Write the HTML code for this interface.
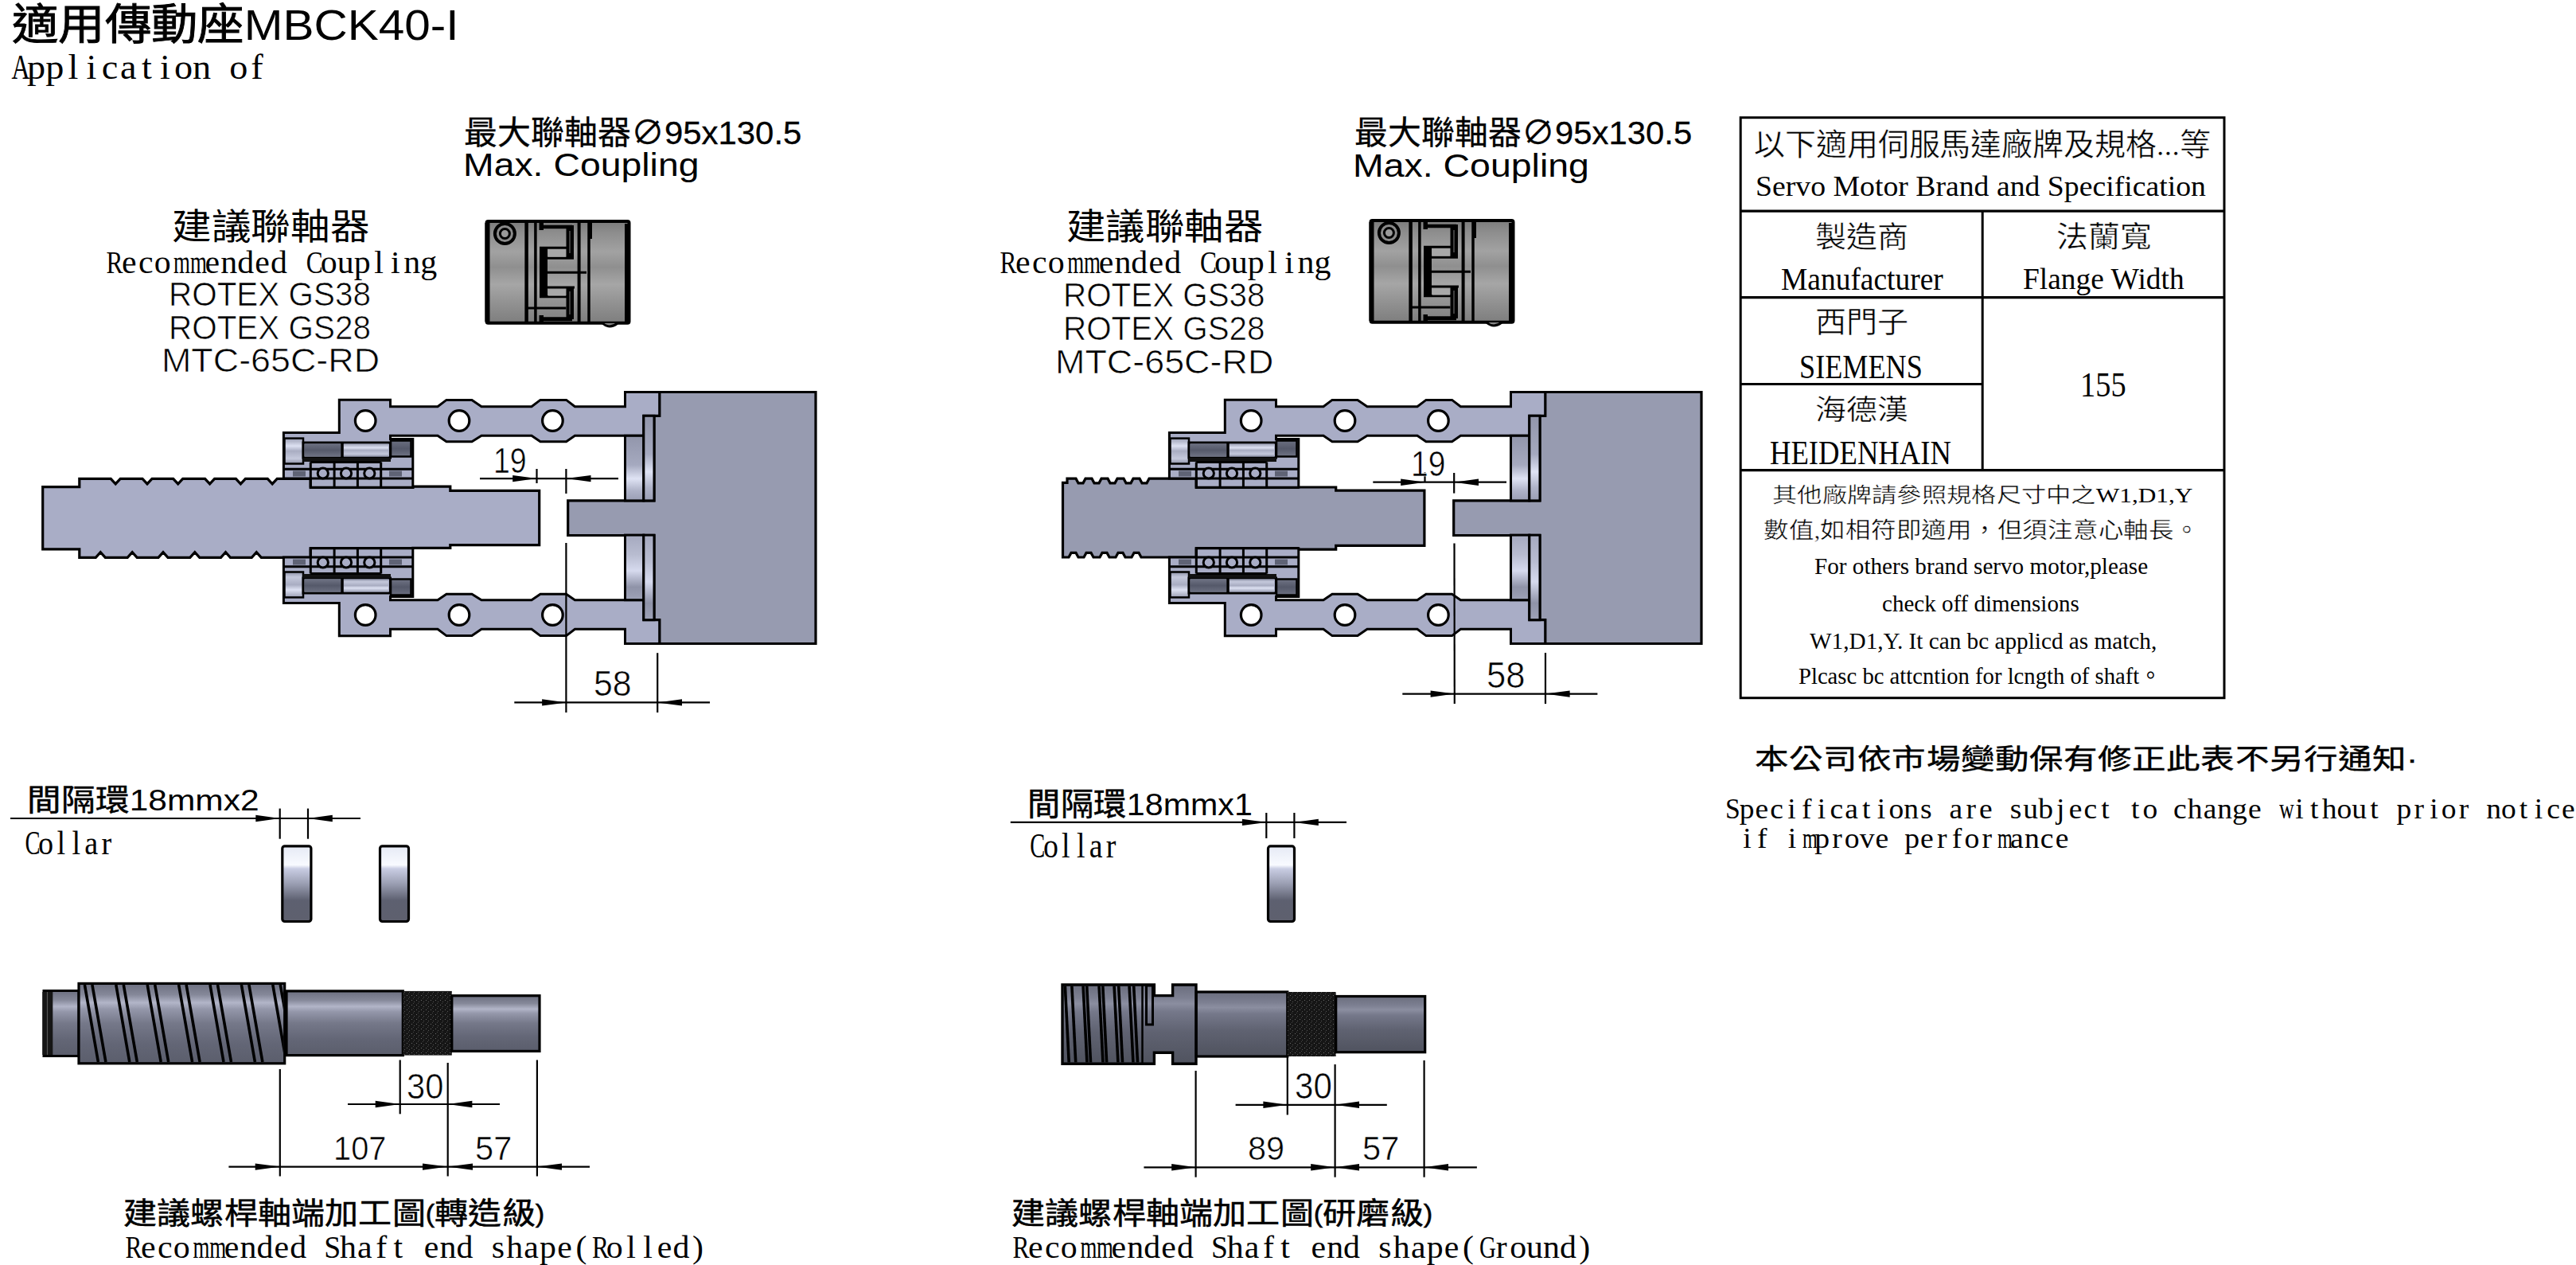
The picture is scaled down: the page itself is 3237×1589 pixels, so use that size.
<!DOCTYPE html>
<html lang="zh-TW"><head><meta charset="utf-8"><style>
html,body{margin:0;padding:0;background:#fff;}
body{width:3237px;height:1589px;position:relative;overflow:hidden;}
.ms i{display:inline-block;width:0.5em;text-align:center;font-style:normal;}
.pr{font-size:0.82em;vertical-align:0.06em;}
.t{position:absolute;white-space:nowrap;line-height:1.25;color:#000;transform-origin:0 0;}
svg{position:absolute;left:0;top:0;}
</style></head><body>
<svg width="3237" height="1589" viewBox="0 0 3237 1589">
<defs>
<linearGradient id="ringG" x1="0" y1="0" x2="0" y2="1">
 <stop offset="0" stop-color="#9296ab"/><stop offset="0.45" stop-color="#a5a9bf"/>
 <stop offset="0.66" stop-color="#dfe3f4"/><stop offset="0.85" stop-color="#aeb2c7"/><stop offset="1" stop-color="#9a9eb4"/>
</linearGradient>
<linearGradient id="ringGb" x1="0" y1="0" x2="0" y2="1">
 <stop offset="0" stop-color="#9ea2b7"/><stop offset="0.2" stop-color="#8f93a8"/><stop offset="0.45" stop-color="#d6daee"/><stop offset="0.7" stop-color="#b8bcd0"/><stop offset="1" stop-color="#a5a9bf"/>
</linearGradient>
<linearGradient id="ringG2" x1="0" y1="1" x2="0" y2="0">
 <stop offset="0" stop-color="#9296ab"/><stop offset="0.45" stop-color="#a5a9bf"/>
 <stop offset="0.66" stop-color="#dfe3f4"/><stop offset="0.85" stop-color="#aeb2c7"/><stop offset="1" stop-color="#9a9eb4"/>
</linearGradient>
<linearGradient id="boltG" x1="0" y1="0" x2="0" y2="1">
 <stop offset="0" stop-color="#9a9eb3"/><stop offset="0.3" stop-color="#dde1f2"/><stop offset="0.5" stop-color="#a9adc2"/>
 <stop offset="0.8" stop-color="#c5c9dc"/><stop offset="1" stop-color="#8e92a7"/>
</linearGradient>
<linearGradient id="darkG" x1="0" y1="0" x2="0" y2="1">
 <stop offset="0" stop-color="#6b6f80"/><stop offset="0.5" stop-color="#55596a"/><stop offset="1" stop-color="#6f7384"/>
</linearGradient>
<linearGradient id="shaftG" x1="0" y1="0" x2="0" y2="1">
 <stop offset="0" stop-color="#6c6f80"/><stop offset="0.14" stop-color="#858899"/><stop offset="0.24" stop-color="#b2b5c8"/>
 <stop offset="0.32" stop-color="#9497aa"/><stop offset="0.5" stop-color="#757889"/><stop offset="0.75" stop-color="#636676"/><stop offset="1" stop-color="#5b5e6c"/>
</linearGradient>
<linearGradient id="shaftG2" x1="0" y1="0" x2="0" y2="1">
 <stop offset="0" stop-color="#6a6d7d"/><stop offset="0.16" stop-color="#7c7f91"/><stop offset="0.24" stop-color="#8b8ea0"/>
 <stop offset="0.34" stop-color="#75788a"/><stop offset="0.6" stop-color="#5f6271"/><stop offset="1" stop-color="#50535f"/>
</linearGradient>
<linearGradient id="collarG" x1="0" y1="0" x2="0" y2="1">
 <stop offset="0" stop-color="#e6eaf5"/><stop offset="0.25" stop-color="#f8faff"/><stop offset="0.3" stop-color="#c9cde3"/>
 <stop offset="0.5" stop-color="#9a9eb2"/><stop offset="0.72" stop-color="#5d6070"/><stop offset="1" stop-color="#5e606e"/>
</linearGradient>
<linearGradient id="coupG" x1="0" y1="0" x2="0" y2="1">
 <stop offset="0" stop-color="#7c7c7c"/><stop offset="0.12" stop-color="#8e8e8e"/><stop offset="0.3" stop-color="#a2a2a2"/>
 <stop offset="0.45" stop-color="#8f8f8f"/><stop offset="0.62" stop-color="#a6a6a6"/><stop offset="0.8" stop-color="#929292"/><stop offset="1" stop-color="#7e7e7e"/>
</linearGradient>
<pattern id="knurl" width="6" height="6" patternUnits="userSpaceOnUse">
 <rect width="6" height="6" fill="#161616"/><rect x="1" y="2" width="1" height="1" fill="#6a6a6a"/><rect x="4" y="4" width="1" height="1" fill="#555"/><rect x="3" y="0" width="1" height="1" fill="#444"/>
</pattern>
</defs>
<path d="M53.7,611.7 L99.8,611.7 L99.8,601.3 L139.2,601.3 L145.2,607.8 L151.2,601.3 L179.0,601.3 L185.0,607.8 L191.0,601.3 L217.7,601.3 L223.7,607.8 L229.7,601.3 L257.6,601.3 L263.6,607.8 L269.6,601.3 L296.4,601.3 L302.4,607.8 L308.4,601.3 L336.2,601.3 L342.2,607.8 L348.2,601.3 L390.3,601.3 L390.3,612.3 L518.8,612.3 L518.8,611.2 L565.8,611.2 L565.8,616.3 L677.7,616.3 L677.7,684.6 L565.8,684.6 L565.8,688.4 L518.8,688.4 L518.8,688.7 L390.3,688.7 L390.3,700.3 L328.3,700.3 L322.3,693.7 L316.3,700.3 L289.5,700.3 L283.5,693.7 L277.5,700.3 L250.8,700.3 L244.8,693.7 L238.8,700.3 L211.0,700.3 L205.0,693.7 L199.0,700.3 L172.2,700.3 L166.2,693.7 L160.2,700.3 L132.3,700.3 L126.3,693.7 L120.3,700.3 L99.8,700.3 L99.8,689.9 L53.7,689.9 Z" fill="#a9adc6" stroke="#000" stroke-width="3.2" stroke-linejoin="miter" />
<path d="M828.7,492.5 L1025.0,492.5 L1025.0,808.5 L828.7,808.5 L828.7,778.7 L822.0,778.7 L822.0,672.5 L713.7,672.5 L713.7,628.9 L822.0,628.9 L822.0,522.3 L828.7,522.3 Z" fill="#979bb0" stroke="#000" stroke-width="3.2" stroke-linejoin="miter" /><path d="M356.4,543.4 L426.3,543.4 L426.3,502.3 L490.5,502.3 L490.5,510.7 L550.0,510.7 L561.0,502.4 L593.0,502.4 L605.0,510.7 L668.0,510.7 L679.0,502.4 L711.6,502.4 L722.4,510.7 L785.5,510.7 L785.5,492.5 L828.7,492.5 L828.7,522.3 L808.8,522.3 L808.8,547.3 L722.4,547.3 L711.6,554.7 L679.0,554.7 L668.0,547.3 L605.0,547.3 L593.0,554.7 L561.0,554.7 L550.0,547.3 L490.5,547.3 L490.5,551.6 L518.8,551.6 L518.8,612.3 L390.3,612.3 L390.3,601.0 L356.4,601.0 Z" fill="#a9adc6" stroke="#000" stroke-width="3" stroke-linejoin="miter" /><circle cx="459.2" cy="528.5" r="12.8" fill="#fff" stroke="#000" stroke-width="3.2"/><circle cx="577" cy="528.5" r="12.8" fill="#fff" stroke="#000" stroke-width="3.2"/><circle cx="694.4" cy="528.5" r="12.8" fill="#fff" stroke="#000" stroke-width="3.2"/><rect x="357.5" y="550.6" width="23.5" height="31.9" fill="url(#boltG)" stroke="#000" stroke-width="2.5" /><rect x="381.0" y="556.0" width="109.5" height="19.0" fill="none" stroke="#000" stroke-width="3" /><rect x="382.5" y="557.5" width="46" height="16" fill="url(#darkG)"/><rect x="432" y="557.5" width="56" height="16" fill="url(#boltG)"/><line x1="430.0" y1="556.0" x2="430.0" y2="575.0" stroke="#000" stroke-width="3.5"/><rect x="491.0" y="553.5" width="25.5" height="20.0" fill="url(#darkG)" stroke="#000" stroke-width="2.5" /><rect x="381" y="575" width="110" height="5" fill="#111"/><line x1="357.0" y1="589.2" x2="518.8" y2="589.2" stroke="#000" stroke-width="3"/><line x1="390.3" y1="601.0" x2="518.8" y2="601.0" stroke="#000" stroke-width="3"/><line x1="390.3" y1="580.4" x2="390.3" y2="612.3" stroke="#000" stroke-width="3"/><line x1="420.1" y1="580.4" x2="420.1" y2="612.3" stroke="#000" stroke-width="3"/><line x1="449.4" y1="580.4" x2="449.4" y2="612.3" stroke="#000" stroke-width="3"/><line x1="478.7" y1="580.4" x2="478.7" y2="612.3" stroke="#000" stroke-width="3"/><line x1="390.3" y1="580.4" x2="478.7" y2="580.4" stroke="#000" stroke-width="3"/><circle cx="405.8" cy="594.5" r="6.6" fill="#a9adc6" stroke="#000" stroke-width="3"/><circle cx="435" cy="594.5" r="6.6" fill="#a9adc6" stroke="#000" stroke-width="3"/><circle cx="464.3" cy="594.5" r="6.6" fill="#a9adc6" stroke="#000" stroke-width="3"/><rect x="368" y="591.5" width="16" height="7" fill="#5f6375"/><rect x="489" y="591.5" width="16" height="7" fill="#5f6375"/><rect x="785.5" y="547.3" width="23.3" height="81.6" fill="url(#ringG)" stroke="#000" stroke-width="3" /><rect x="808.8" y="522.3" width="13.2" height="106.6" fill="url(#ringG)" stroke="#000" stroke-width="3" /><g transform="matrix(1 0 0 -1 0 1301.0)"><path d="M356.4,543.4 L426.3,543.4 L426.3,502.3 L490.5,502.3 L490.5,510.7 L550.0,510.7 L561.0,502.4 L593.0,502.4 L605.0,510.7 L668.0,510.7 L679.0,502.4 L711.6,502.4 L722.4,510.7 L785.5,510.7 L785.5,492.5 L828.7,492.5 L828.7,522.3 L808.8,522.3 L808.8,547.3 L722.4,547.3 L711.6,554.7 L679.0,554.7 L668.0,547.3 L605.0,547.3 L593.0,554.7 L561.0,554.7 L550.0,547.3 L490.5,547.3 L490.5,551.6 L518.8,551.6 L518.8,612.3 L390.3,612.3 L390.3,601.0 L356.4,601.0 Z" fill="#a9adc6" stroke="#000" stroke-width="3" stroke-linejoin="miter" /><circle cx="459.2" cy="528.5" r="12.8" fill="#fff" stroke="#000" stroke-width="3.2"/><circle cx="577" cy="528.5" r="12.8" fill="#fff" stroke="#000" stroke-width="3.2"/><circle cx="694.4" cy="528.5" r="12.8" fill="#fff" stroke="#000" stroke-width="3.2"/><rect x="357.5" y="550.6" width="23.5" height="31.9" fill="url(#boltG)" stroke="#000" stroke-width="2.5" /><rect x="381.0" y="556.0" width="109.5" height="19.0" fill="none" stroke="#000" stroke-width="3" /><rect x="382.5" y="557.5" width="46" height="16" fill="url(#darkG)"/><rect x="432" y="557.5" width="56" height="16" fill="url(#boltG)"/><line x1="430.0" y1="556.0" x2="430.0" y2="575.0" stroke="#000" stroke-width="3.5"/><rect x="491.0" y="553.5" width="25.5" height="20.0" fill="url(#darkG)" stroke="#000" stroke-width="2.5" /><rect x="381" y="575" width="110" height="5" fill="#111"/><line x1="357.0" y1="589.2" x2="518.8" y2="589.2" stroke="#000" stroke-width="3"/><line x1="390.3" y1="601.0" x2="518.8" y2="601.0" stroke="#000" stroke-width="3"/><line x1="390.3" y1="580.4" x2="390.3" y2="612.3" stroke="#000" stroke-width="3"/><line x1="420.1" y1="580.4" x2="420.1" y2="612.3" stroke="#000" stroke-width="3"/><line x1="449.4" y1="580.4" x2="449.4" y2="612.3" stroke="#000" stroke-width="3"/><line x1="478.7" y1="580.4" x2="478.7" y2="612.3" stroke="#000" stroke-width="3"/><line x1="390.3" y1="580.4" x2="478.7" y2="580.4" stroke="#000" stroke-width="3"/><circle cx="405.8" cy="594.5" r="6.6" fill="#a9adc6" stroke="#000" stroke-width="3"/><circle cx="435" cy="594.5" r="6.6" fill="#a9adc6" stroke="#000" stroke-width="3"/><circle cx="464.3" cy="594.5" r="6.6" fill="#a9adc6" stroke="#000" stroke-width="3"/><rect x="368" y="591.5" width="16" height="7" fill="#5f6375"/><rect x="489" y="591.5" width="16" height="7" fill="#5f6375"/><rect x="785.5" y="547.3" width="23.3" height="81.6" fill="url(#ringGb)" stroke="#000" stroke-width="3" /><rect x="808.8" y="522.3" width="13.2" height="106.6" fill="url(#ringGb)" stroke="#000" stroke-width="3" /></g>
<path d="M1335.5,606.4 L1341.0,606.4 L1341.0,601.2 L1352.0,601.2 L1355.0,606.8 L1361.0,606.8 L1364.0,601.2 L1372.0,601.2 L1375.0,606.8 L1381.0,606.8 L1384.0,601.2 L1392.0,601.2 L1395.0,606.8 L1401.0,606.8 L1404.0,601.2 L1412.0,601.2 L1415.0,606.8 L1421.0,606.8 L1424.0,601.2 L1432.0,601.2 L1435.0,606.8 L1441.0,606.8 L1444.0,601.2 L1503.3,601.2 L1503.3,612.3 L1630.4,612.3 L1630.4,612.0 L1678.7,612.0 L1678.7,616.1 L1789.9,616.1 L1789.9,685.4 L1678.7,685.4 L1678.7,690.1 L1630.4,690.1 L1630.4,688.7 L1503.3,688.7 L1503.3,700.0 L1434.0,700.0 L1431.0,694.4 L1425.0,694.4 L1422.0,700.0 L1414.0,700.0 L1411.0,694.4 L1405.0,694.4 L1402.0,700.0 L1394.0,700.0 L1391.0,694.4 L1385.0,694.4 L1382.0,700.0 L1374.0,700.0 L1371.0,694.4 L1365.0,694.4 L1362.0,700.0 L1355.0,700.0 L1352.0,694.4 L1346.0,694.4 L1343.0,700.0 L1335.5,700.0 Z" fill="#979bb0" stroke="#000" stroke-width="3.2" stroke-linejoin="miter" />
<g transform="translate(1113 0)"><path d="M828.7,492.5 L1025.0,492.5 L1025.0,808.5 L828.7,808.5 L828.7,778.7 L822.0,778.7 L822.0,672.5 L713.7,672.5 L713.7,628.9 L822.0,628.9 L822.0,522.3 L828.7,522.3 Z" fill="#979bb0" stroke="#000" stroke-width="3.2" stroke-linejoin="miter" /><path d="M356.4,543.4 L426.3,543.4 L426.3,502.3 L490.5,502.3 L490.5,510.7 L550.0,510.7 L561.0,502.4 L593.0,502.4 L605.0,510.7 L668.0,510.7 L679.0,502.4 L711.6,502.4 L722.4,510.7 L785.5,510.7 L785.5,492.5 L828.7,492.5 L828.7,522.3 L808.8,522.3 L808.8,547.3 L722.4,547.3 L711.6,554.7 L679.0,554.7 L668.0,547.3 L605.0,547.3 L593.0,554.7 L561.0,554.7 L550.0,547.3 L490.5,547.3 L490.5,551.6 L518.8,551.6 L518.8,612.3 L390.3,612.3 L390.3,601.0 L356.4,601.0 Z" fill="#a9adc6" stroke="#000" stroke-width="3" stroke-linejoin="miter" /><circle cx="459.2" cy="528.5" r="12.8" fill="#fff" stroke="#000" stroke-width="3.2"/><circle cx="577" cy="528.5" r="12.8" fill="#fff" stroke="#000" stroke-width="3.2"/><circle cx="694.4" cy="528.5" r="12.8" fill="#fff" stroke="#000" stroke-width="3.2"/><rect x="357.5" y="550.6" width="23.5" height="31.9" fill="url(#boltG)" stroke="#000" stroke-width="2.5" /><rect x="381.0" y="556.0" width="109.5" height="19.0" fill="none" stroke="#000" stroke-width="3" /><rect x="382.5" y="557.5" width="46" height="16" fill="url(#darkG)"/><rect x="432" y="557.5" width="56" height="16" fill="url(#boltG)"/><line x1="430.0" y1="556.0" x2="430.0" y2="575.0" stroke="#000" stroke-width="3.5"/><rect x="491.0" y="553.5" width="25.5" height="20.0" fill="url(#darkG)" stroke="#000" stroke-width="2.5" /><rect x="381" y="575" width="110" height="5" fill="#111"/><line x1="357.0" y1="589.2" x2="518.8" y2="589.2" stroke="#000" stroke-width="3"/><line x1="390.3" y1="601.0" x2="518.8" y2="601.0" stroke="#000" stroke-width="3"/><line x1="390.3" y1="580.4" x2="390.3" y2="612.3" stroke="#000" stroke-width="3"/><line x1="420.1" y1="580.4" x2="420.1" y2="612.3" stroke="#000" stroke-width="3"/><line x1="449.4" y1="580.4" x2="449.4" y2="612.3" stroke="#000" stroke-width="3"/><line x1="478.7" y1="580.4" x2="478.7" y2="612.3" stroke="#000" stroke-width="3"/><line x1="390.3" y1="580.4" x2="478.7" y2="580.4" stroke="#000" stroke-width="3"/><circle cx="405.8" cy="594.5" r="6.6" fill="#a9adc6" stroke="#000" stroke-width="3"/><circle cx="435" cy="594.5" r="6.6" fill="#a9adc6" stroke="#000" stroke-width="3"/><circle cx="464.3" cy="594.5" r="6.6" fill="#a9adc6" stroke="#000" stroke-width="3"/><rect x="368" y="591.5" width="16" height="7" fill="#5f6375"/><rect x="489" y="591.5" width="16" height="7" fill="#5f6375"/><rect x="785.5" y="547.3" width="23.3" height="81.6" fill="url(#ringG)" stroke="#000" stroke-width="3" /><rect x="808.8" y="522.3" width="13.2" height="106.6" fill="url(#ringG)" stroke="#000" stroke-width="3" /><g transform="matrix(1 0 0 -1 0 1301.0)"><path d="M356.4,543.4 L426.3,543.4 L426.3,502.3 L490.5,502.3 L490.5,510.7 L550.0,510.7 L561.0,502.4 L593.0,502.4 L605.0,510.7 L668.0,510.7 L679.0,502.4 L711.6,502.4 L722.4,510.7 L785.5,510.7 L785.5,492.5 L828.7,492.5 L828.7,522.3 L808.8,522.3 L808.8,547.3 L722.4,547.3 L711.6,554.7 L679.0,554.7 L668.0,547.3 L605.0,547.3 L593.0,554.7 L561.0,554.7 L550.0,547.3 L490.5,547.3 L490.5,551.6 L518.8,551.6 L518.8,612.3 L390.3,612.3 L390.3,601.0 L356.4,601.0 Z" fill="#a9adc6" stroke="#000" stroke-width="3" stroke-linejoin="miter" /><circle cx="459.2" cy="528.5" r="12.8" fill="#fff" stroke="#000" stroke-width="3.2"/><circle cx="577" cy="528.5" r="12.8" fill="#fff" stroke="#000" stroke-width="3.2"/><circle cx="694.4" cy="528.5" r="12.8" fill="#fff" stroke="#000" stroke-width="3.2"/><rect x="357.5" y="550.6" width="23.5" height="31.9" fill="url(#boltG)" stroke="#000" stroke-width="2.5" /><rect x="381.0" y="556.0" width="109.5" height="19.0" fill="none" stroke="#000" stroke-width="3" /><rect x="382.5" y="557.5" width="46" height="16" fill="url(#darkG)"/><rect x="432" y="557.5" width="56" height="16" fill="url(#boltG)"/><line x1="430.0" y1="556.0" x2="430.0" y2="575.0" stroke="#000" stroke-width="3.5"/><rect x="491.0" y="553.5" width="25.5" height="20.0" fill="url(#darkG)" stroke="#000" stroke-width="2.5" /><rect x="381" y="575" width="110" height="5" fill="#111"/><line x1="357.0" y1="589.2" x2="518.8" y2="589.2" stroke="#000" stroke-width="3"/><line x1="390.3" y1="601.0" x2="518.8" y2="601.0" stroke="#000" stroke-width="3"/><line x1="390.3" y1="580.4" x2="390.3" y2="612.3" stroke="#000" stroke-width="3"/><line x1="420.1" y1="580.4" x2="420.1" y2="612.3" stroke="#000" stroke-width="3"/><line x1="449.4" y1="580.4" x2="449.4" y2="612.3" stroke="#000" stroke-width="3"/><line x1="478.7" y1="580.4" x2="478.7" y2="612.3" stroke="#000" stroke-width="3"/><line x1="390.3" y1="580.4" x2="478.7" y2="580.4" stroke="#000" stroke-width="3"/><circle cx="405.8" cy="594.5" r="6.6" fill="#a9adc6" stroke="#000" stroke-width="3"/><circle cx="435" cy="594.5" r="6.6" fill="#a9adc6" stroke="#000" stroke-width="3"/><circle cx="464.3" cy="594.5" r="6.6" fill="#a9adc6" stroke="#000" stroke-width="3"/><rect x="368" y="591.5" width="16" height="7" fill="#5f6375"/><rect x="489" y="591.5" width="16" height="7" fill="#5f6375"/><rect x="785.5" y="547.3" width="23.3" height="81.6" fill="url(#ringGb)" stroke="#000" stroke-width="3" /><rect x="808.8" y="522.3" width="13.2" height="106.6" fill="url(#ringGb)" stroke="#000" stroke-width="3" /></g></g>
<line x1="603.0" y1="601.1" x2="777.0" y2="601.1" stroke="#000" stroke-width="2.2"/><path d="M674.5,601.1 L644.2,596.9 L644.2,605.3 Z" fill="#000"/><path d="M711.4,601.1 L742.5,596.9 L742.5,605.3 Z" fill="#000"/><line x1="674.5" y1="589.0" x2="674.5" y2="607.0" stroke="#000" stroke-width="2.2"/><line x1="711.4" y1="589.0" x2="711.4" y2="620.0" stroke="#000" stroke-width="2.2"/><line x1="711.4" y1="682.0" x2="711.4" y2="895.0" stroke="#000" stroke-width="2.2"/><line x1="646.3" y1="882.4" x2="892.0" y2="882.4" stroke="#000" stroke-width="2.2"/><path d="M712.0,882.4 L681.1,878.2 L681.1,886.6 Z" fill="#000"/><path d="M826.2,882.4 L857.0,878.2 L857.0,886.6 Z" fill="#000"/><line x1="826.2" y1="820.2" x2="826.2" y2="895.0" stroke="#000" stroke-width="2.2"/><line x1="1725.3" y1="605.7" x2="1893.0" y2="605.7" stroke="#000" stroke-width="2.2"/><path d="M1790.5,605.7 L1760.2,601.5 L1760.2,609.9 Z" fill="#000"/><path d="M1827.2,605.7 L1858.0,601.5 L1858.0,609.9 Z" fill="#000"/><line x1="1790.5" y1="593.4" x2="1790.5" y2="606.0" stroke="#000" stroke-width="2.2"/><line x1="1827.2" y1="594.0" x2="1827.2" y2="619.6" stroke="#000" stroke-width="2.2"/><line x1="1827.5" y1="682.5" x2="1827.8" y2="884.1" stroke="#000" stroke-width="2.2"/><line x1="1762.3" y1="871.6" x2="2007.4" y2="871.6" stroke="#000" stroke-width="2.2"/><path d="M1827.8,871.6 L1797.6,867.4 L1797.6,875.8 Z" fill="#000"/><path d="M1942.0,871.6 L1972.6,867.4 L1972.6,875.8 Z" fill="#000"/><line x1="1942.0" y1="820.0" x2="1942.0" y2="884.1" stroke="#000" stroke-width="2.2"/>
<rect x="611.5" y="278" width="179" height="127.7" rx="2" fill="url(#coupG)" stroke="#000" stroke-width="4"/><rect x="609.5" y="280" width="6" height="124" fill="#000"/><rect x="785" y="281" width="6" height="123" fill="#000"/><line x1="661.6" y1="279.0" x2="661.6" y2="405.0" stroke="#000" stroke-width="4.5"/><line x1="672.9" y1="279.0" x2="672.9" y2="405.0" stroke="#000" stroke-width="3.5"/><line x1="727.6" y1="279.0" x2="727.6" y2="405.0" stroke="#000" stroke-width="4"/><line x1="740.0" y1="279.0" x2="740.0" y2="405.0" stroke="#000" stroke-width="3.5"/><rect x="739" y="278" width="5" height="22" fill="#000"/><rect x="677.5" y="278" width="5.5" height="11" fill="#000"/><rect x="677.5" y="396" width="5.5" height="10" fill="#000"/><line x1="683.0" y1="285.0" x2="719.0" y2="285.0" stroke="#000" stroke-width="4.5"/><line x1="678.0" y1="311.2" x2="719.0" y2="311.2" stroke="#000" stroke-width="3"/><line x1="688.0" y1="324.2" x2="721.0" y2="324.2" stroke="#000" stroke-width="3"/><line x1="688.0" y1="342.3" x2="737.0" y2="342.3" stroke="#000" stroke-width="3"/><line x1="683.0" y1="361.0" x2="722.0" y2="361.0" stroke="#000" stroke-width="3"/><line x1="678.0" y1="372.8" x2="719.0" y2="372.8" stroke="#000" stroke-width="3"/><line x1="661.6" y1="387.1" x2="711.4" y2="387.1" stroke="#000" stroke-width="3"/><line x1="683.0" y1="400.7" x2="719.0" y2="400.7" stroke="#000" stroke-width="5"/><rect x="678" y="310" width="10" height="64" fill="#000"/><rect x="711.5" y="283" width="9.5" height="42" fill="#000"/><line x1="716" y1="290" x2="716" y2="318" stroke="#555" stroke-width="1.5"/><rect x="711.5" y="360" width="9.5" height="41" fill="#000"/><line x1="716" y1="366" x2="716" y2="395" stroke="#555" stroke-width="1.5"/><rect x="689" y="313.5" width="22" height="9" fill="#a8a8a8"/><rect x="689" y="363.5" width="22" height="8" fill="#a8a8a8"/><circle cx="634.4" cy="293.5" r="12.5" fill="#8a8a8a" stroke="#000" stroke-width="4"/><circle cx="634.4" cy="293.5" r="6" fill="#999" stroke="#000" stroke-width="3"/><path d="M757,406 Q766,414 776,406" fill="#888" stroke="#000" stroke-width="3"/>
<g transform="translate(1111 -1)"><rect x="611.5" y="278" width="179" height="127.7" rx="2" fill="url(#coupG)" stroke="#000" stroke-width="4"/><rect x="609.5" y="280" width="6" height="124" fill="#000"/><rect x="785" y="281" width="6" height="123" fill="#000"/><line x1="661.6" y1="279.0" x2="661.6" y2="405.0" stroke="#000" stroke-width="4.5"/><line x1="672.9" y1="279.0" x2="672.9" y2="405.0" stroke="#000" stroke-width="3.5"/><line x1="727.6" y1="279.0" x2="727.6" y2="405.0" stroke="#000" stroke-width="4"/><line x1="740.0" y1="279.0" x2="740.0" y2="405.0" stroke="#000" stroke-width="3.5"/><rect x="739" y="278" width="5" height="22" fill="#000"/><rect x="677.5" y="278" width="5.5" height="11" fill="#000"/><rect x="677.5" y="396" width="5.5" height="10" fill="#000"/><line x1="683.0" y1="285.0" x2="719.0" y2="285.0" stroke="#000" stroke-width="4.5"/><line x1="678.0" y1="311.2" x2="719.0" y2="311.2" stroke="#000" stroke-width="3"/><line x1="688.0" y1="324.2" x2="721.0" y2="324.2" stroke="#000" stroke-width="3"/><line x1="688.0" y1="342.3" x2="737.0" y2="342.3" stroke="#000" stroke-width="3"/><line x1="683.0" y1="361.0" x2="722.0" y2="361.0" stroke="#000" stroke-width="3"/><line x1="678.0" y1="372.8" x2="719.0" y2="372.8" stroke="#000" stroke-width="3"/><line x1="661.6" y1="387.1" x2="711.4" y2="387.1" stroke="#000" stroke-width="3"/><line x1="683.0" y1="400.7" x2="719.0" y2="400.7" stroke="#000" stroke-width="5"/><rect x="678" y="310" width="10" height="64" fill="#000"/><rect x="711.5" y="283" width="9.5" height="42" fill="#000"/><line x1="716" y1="290" x2="716" y2="318" stroke="#555" stroke-width="1.5"/><rect x="711.5" y="360" width="9.5" height="41" fill="#000"/><line x1="716" y1="366" x2="716" y2="395" stroke="#555" stroke-width="1.5"/><rect x="689" y="313.5" width="22" height="9" fill="#a8a8a8"/><rect x="689" y="363.5" width="22" height="8" fill="#a8a8a8"/><circle cx="634.4" cy="293.5" r="12.5" fill="#8a8a8a" stroke="#000" stroke-width="4"/><circle cx="634.4" cy="293.5" r="6" fill="#999" stroke="#000" stroke-width="3"/><path d="M757,406 Q766,414 776,406" fill="#888" stroke="#000" stroke-width="3"/></g>
<rect x="354.8" y="1062.8" width="36.099999999999966" height="94.70000000000005" rx="3" fill="url(#collarG)" stroke="#000" stroke-width="3.2"/>
<rect x="477.5" y="1062.8" width="36" height="94.70000000000005" rx="3" fill="url(#collarG)" stroke="#000" stroke-width="3.2"/>
<rect x="1593.5" y="1062.9" width="33" height="94.59999999999991" rx="3" fill="url(#collarG)" stroke="#000" stroke-width="3.2"/>
<line x1="13.0" y1="1028.0" x2="453.0" y2="1028.0" stroke="#000" stroke-width="2.2"/>
<path d="M351.7,1028.0 L321.3,1023.8 L321.3,1032.2 Z" fill="#000"/>
<path d="M387.0,1028.0 L417.8,1023.8 L417.8,1032.2 Z" fill="#000"/>
<line x1="351.7" y1="1015.6" x2="351.7" y2="1053.7" stroke="#000" stroke-width="2.2"/>
<line x1="387.0" y1="1015.6" x2="387.0" y2="1053.7" stroke="#000" stroke-width="2.2"/>
<line x1="1269.8" y1="1032.9" x2="1692.0" y2="1032.9" stroke="#000" stroke-width="2.2"/>
<path d="M1591.3,1032.9 L1560.9,1028.7 L1560.9,1037.1 Z" fill="#000"/>
<path d="M1626.4,1032.9 L1656.8,1028.7 L1656.8,1037.1 Z" fill="#000"/>
<line x1="1591.3" y1="1021.0" x2="1591.3" y2="1053.0" stroke="#000" stroke-width="2.2"/>
<line x1="1626.4" y1="1021.0" x2="1626.4" y2="1053.0" stroke="#000" stroke-width="2.2"/>
<rect x="55.0" y="1244.5" width="44.0" height="82.0" fill="url(#shaftG)" stroke="#000" stroke-width="3" /><rect x="53.3" y="1246" width="13" height="79" fill="#161616"/><line x1="59.5" y1="1246.0" x2="59.5" y2="1325.0" stroke="#555" stroke-width="1.2"/><rect x="99.0" y="1235.4" width="258.7" height="100.4" fill="url(#shaftG)" stroke="#000" stroke-width="3.2" /><clipPath id="clBL"><rect x="100" y="1236" width="256" height="99"/></clipPath><g clip-path="url(#clBL)"><line x1="106.4" y1="1237.0" x2="123.4" y2="1334.0" stroke="#000" stroke-width="3.6"/><line x1="115.9" y1="1237.0" x2="132.9" y2="1334.0" stroke="#000" stroke-width="3.6"/><line x1="145.8" y1="1237.0" x2="162.8" y2="1334.0" stroke="#000" stroke-width="3.6"/><line x1="155.3" y1="1237.0" x2="172.3" y2="1334.0" stroke="#000" stroke-width="3.6"/><line x1="185.2" y1="1237.0" x2="202.2" y2="1334.0" stroke="#000" stroke-width="3.6"/><line x1="194.7" y1="1237.0" x2="211.7" y2="1334.0" stroke="#000" stroke-width="3.6"/><line x1="224.6" y1="1237.0" x2="241.6" y2="1334.0" stroke="#000" stroke-width="3.6"/><line x1="234.1" y1="1237.0" x2="251.1" y2="1334.0" stroke="#000" stroke-width="3.6"/><line x1="264.0" y1="1237.0" x2="281.0" y2="1334.0" stroke="#000" stroke-width="3.6"/><line x1="273.5" y1="1237.0" x2="290.5" y2="1334.0" stroke="#000" stroke-width="3.6"/><line x1="303.4" y1="1237.0" x2="320.4" y2="1334.0" stroke="#000" stroke-width="3.6"/><line x1="312.9" y1="1237.0" x2="329.9" y2="1334.0" stroke="#000" stroke-width="3.6"/><line x1="342.8" y1="1237.0" x2="359.8" y2="1334.0" stroke="#000" stroke-width="3.6"/><line x1="352.3" y1="1237.0" x2="369.3" y2="1334.0" stroke="#000" stroke-width="3.6"/></g><rect x="360.0" y="1244.9" width="146.3" height="80.7" fill="url(#shaftG)" stroke="#000" stroke-width="3.2" /><rect x="506.3" y="1244.9" width="61.5" height="80.7" fill="url(#knurl)"/><rect x="567.8" y="1250.7" width="110.2" height="69.7" fill="url(#shaftG)" stroke="#000" stroke-width="3.2" />
<path d="M1335.0,1237.0 L1450.4,1237.0 L1450.4,1250.6 L1473.6,1250.6 L1473.6,1237.0 L1503.0,1237.0 L1503.0,1336.3 L1473.6,1336.3 L1473.6,1322.2 L1450.4,1322.2 L1450.4,1336.3 L1335.0,1336.3 Z" fill="url(#shaftG2)" stroke="#000" stroke-width="3.4" stroke-linejoin="miter" /><clipPath id="clBR"><rect x="1336.5" y="1238.5" width="99" height="96"/></clipPath><g clip-path="url(#clBR)"><line x1="1338.3" y1="1237.0" x2="1343.3" y2="1336.0" stroke="#000" stroke-width="3.6"/><line x1="1346.8" y1="1237.0" x2="1351.8" y2="1336.0" stroke="#000" stroke-width="3.6"/><line x1="1361.0" y1="1237.0" x2="1366.0" y2="1336.0" stroke="#000" stroke-width="3.6"/><line x1="1365.6" y1="1237.0" x2="1370.6" y2="1336.0" stroke="#000" stroke-width="3.6"/><line x1="1381.0" y1="1237.0" x2="1386.0" y2="1336.0" stroke="#000" stroke-width="3.6"/><line x1="1385.7" y1="1237.0" x2="1390.7" y2="1336.0" stroke="#000" stroke-width="3.6"/><line x1="1400.0" y1="1237.0" x2="1405.0" y2="1336.0" stroke="#000" stroke-width="3.6"/><line x1="1405.6" y1="1237.0" x2="1410.6" y2="1336.0" stroke="#000" stroke-width="3.6"/><line x1="1419.0" y1="1237.0" x2="1424.0" y2="1336.0" stroke="#000" stroke-width="3.6"/><line x1="1424.6" y1="1237.0" x2="1429.6" y2="1336.0" stroke="#000" stroke-width="3.6"/></g><line x1="1435.5" y1="1238.0" x2="1435.5" y2="1335.0" stroke="#000" stroke-width="2.5"/><rect x="1440.5" y="1238.0" width="8.0" height="49.0" fill="none" stroke="#000" stroke-width="3" /><rect x="1503.3" y="1246.0" width="114.5" height="81.0" fill="url(#shaftG2)" stroke="#000" stroke-width="3.2" /><rect x="1617.8" y="1246" width="60.9" height="81" fill="url(#knurl)"/><rect x="1678.7" y="1251.5" width="112.0" height="70.2" fill="url(#shaftG2)" stroke="#000" stroke-width="3.2" />
<line x1="351.8" y1="1343.0" x2="351.8" y2="1477.5" stroke="#000" stroke-width="2.2"/><line x1="502.7" y1="1331.5" x2="502.7" y2="1399.3" stroke="#000" stroke-width="2.2"/><line x1="562.7" y1="1335.0" x2="562.7" y2="1477.5" stroke="#000" stroke-width="2.2"/><line x1="674.9" y1="1331.5" x2="674.9" y2="1477.5" stroke="#000" stroke-width="2.2"/><line x1="437.0" y1="1387.0" x2="628.0" y2="1387.0" stroke="#000" stroke-width="2.2"/><path d="M502.7,1387.0 L471.7,1382.8 L471.7,1391.2 Z" fill="#000"/><path d="M562.7,1387.0 L593.4,1382.8 L593.4,1391.2 Z" fill="#000"/><line x1="287.4" y1="1465.6" x2="741.0" y2="1465.6" stroke="#000" stroke-width="2.2"/><path d="M352.0,1465.6 L320.7,1461.4 L320.7,1469.8 Z" fill="#000"/><path d="M562.5,1465.6 L531.0,1461.4 L531.0,1469.8 Z" fill="#000"/><path d="M562.9,1465.6 L594.0,1461.4 L594.0,1469.8 Z" fill="#000"/><path d="M674.6,1465.6 L706.0,1461.4 L706.0,1469.8 Z" fill="#000"/><line x1="1502.6" y1="1345.0" x2="1502.6" y2="1478.7" stroke="#000" stroke-width="2.2"/><line x1="1617.8" y1="1326.5" x2="1617.8" y2="1400.4" stroke="#000" stroke-width="2.2"/><line x1="1677.6" y1="1337.0" x2="1677.6" y2="1478.7" stroke="#000" stroke-width="2.2"/><line x1="1789.6" y1="1332.0" x2="1789.6" y2="1478.7" stroke="#000" stroke-width="2.2"/><line x1="1552.6" y1="1387.8" x2="1742.8" y2="1387.8" stroke="#000" stroke-width="2.2"/><path d="M1617.8,1387.8 L1587.4,1383.6 L1587.4,1392.0 Z" fill="#000"/><path d="M1677.6,1387.8 L1708.0,1383.6 L1708.0,1392.0 Z" fill="#000"/><line x1="1437.4" y1="1466.3" x2="1855.9" y2="1466.3" stroke="#000" stroke-width="2.2"/><path d="M1502.6,1466.3 L1472.2,1462.1 L1472.2,1470.5 Z" fill="#000"/><path d="M1677.4,1466.3 L1647.2,1462.1 L1647.2,1470.5 Z" fill="#000"/><path d="M1677.8,1466.3 L1708.0,1462.1 L1708.0,1470.5 Z" fill="#000"/><path d="M1789.6,1466.3 L1820.0,1462.1 L1820.0,1470.5 Z" fill="#000"/>
<g stroke="#000" fill="none">
<rect x="2187.2" y="147.7" width="607.8" height="729" stroke-width="3"/>
<line x1="2187.2" y1="265.2" x2="2795.0" y2="265.2" stroke="#000" stroke-width="3.2"/>
<line x1="2187.2" y1="373.6" x2="2795.0" y2="373.6" stroke="#000" stroke-width="3.2"/>
<line x1="2187.2" y1="590.6" x2="2795.0" y2="590.6" stroke="#000" stroke-width="3.2"/>
<line x1="2187.2" y1="482.6" x2="2491.2" y2="482.6" stroke="#000" stroke-width="3"/>
<line x1="2491.2" y1="265.2" x2="2491.2" y2="590.6" stroke="#000" stroke-width="3"/>
</g>
</svg>
<div class="t" id="title" style="left:14.98px;top:-2.01px;font-family:'Liberation Sans', sans-serif;font-weight:500;font-size:54.12px;transform:scaleX(1.0808);"><span style="-webkit-text-stroke:0.9px #000">適用傳動座</span>MBCK40-I</div>
<div class="t ms" id="app" style="left:10.88px;top:56.38px;font-family:'Liberation Serif', serif;font-weight:normal;font-size:44.88px;transform:scaleX(1.0298);"><i style="transform:scaleX(0.692)">A</i><i>p</i><i>p</i><i>l</i><i>i</i><i>c</i><i>a</i><i>t</i><i>i</i><i>o</i><i>n</i><i></i><i>o</i><i>f</i></div>
<div class="t" id="maxL" style="left:583.36px;top:141.87px;font-family:'Liberation Sans', sans-serif;font-weight:normal;font-size:40.93px;transform:scaleX(1.0240);-webkit-text-stroke:0.3px #000;">最大聯軸器∅95x130.5</div>
<div class="t" id="maxcL" style="left:582.27px;top:182.38px;font-family:'Liberation Sans', sans-serif;font-weight:normal;font-size:40.59px;transform:scaleX(1.1430);">Max. Coupling</div>
<div class="t" id="maxR" style="left:1702.06px;top:142.20px;font-family:'Liberation Sans', sans-serif;font-weight:normal;font-size:40.83px;transform:scaleX(1.0246);-webkit-text-stroke:0.3px #000;">最大聯軸器∅95x130.5</div>
<div class="t" id="maxcR" style="left:1700.47px;top:184.46px;font-family:'Liberation Sans', sans-serif;font-weight:normal;font-size:39.86px;transform:scaleX(1.1651);">Max. Coupling</div>
<div class="t" id="recL" style="left:216.08px;top:258.15px;font-family:'Liberation Sans', sans-serif;font-weight:normal;font-size:44.91px;transform:scaleX(1.1043);">建議聯軸器</div>
<div class="t ms" id="receL" style="left:131.46px;top:305.02px;font-family:'Liberation Serif', serif;font-weight:normal;font-size:40.15px;transform:scaleX(1.0422);"><i style="transform:scaleX(0.750)">R</i><i>e</i><i>c</i><i>o</i><i style="transform:scaleX(0.643)">m</i><i style="transform:scaleX(0.643)">m</i><i>e</i><i>n</i><i>d</i><i>e</i><i>d</i><i></i><i style="transform:scaleX(0.750)">C</i><i>o</i><i>u</i><i>p</i><i>l</i><i>i</i><i>n</i><i>g</i></div>
<div class="t" id="r38L" style="left:212.01px;top:343.26px;font-family:'Liberation Sans', sans-serif;font-weight:normal;font-size:43.04px;transform:scaleX(0.9397);-webkit-text-stroke:0.7px #fff;">ROTEX GS38</div>
<div class="t" id="r28L" style="left:212.01px;top:385.40px;font-family:'Liberation Sans', sans-serif;font-weight:normal;font-size:43.04px;transform:scaleX(0.9397);-webkit-text-stroke:0.7px #fff;">ROTEX GS28</div>
<div class="t" id="mtcL" style="left:202.99px;top:426.47px;font-family:'Liberation Sans', sans-serif;font-weight:normal;font-size:43.04px;transform:scaleX(1.0422);-webkit-text-stroke:0.7px #fff;">MTC-65C-RD</div>
<div class="t" id="recR" style="left:1339.65px;top:258.15px;font-family:'Liberation Sans', sans-serif;font-weight:normal;font-size:44.91px;transform:scaleX(1.0999);">建議聯軸器</div>
<div class="t ms" id="receR" style="left:1253.84px;top:305.02px;font-family:'Liberation Serif', serif;font-weight:normal;font-size:40.15px;transform:scaleX(1.0427);"><i style="transform:scaleX(0.750)">R</i><i>e</i><i>c</i><i>o</i><i style="transform:scaleX(0.643)">m</i><i style="transform:scaleX(0.643)">m</i><i>e</i><i>n</i><i>d</i><i>e</i><i>d</i><i></i><i style="transform:scaleX(0.750)">C</i><i>o</i><i>u</i><i>p</i><i>l</i><i>i</i><i>n</i><i>g</i></div>
<div class="t" id="r38R" style="left:1335.86px;top:344.33px;font-family:'Liberation Sans', sans-serif;font-weight:normal;font-size:43.04px;transform:scaleX(0.9381);-webkit-text-stroke:0.7px #fff;">ROTEX GS38</div>
<div class="t" id="r28R" style="left:1335.86px;top:386.47px;font-family:'Liberation Sans', sans-serif;font-weight:normal;font-size:43.04px;transform:scaleX(0.9381);-webkit-text-stroke:0.7px #fff;">ROTEX GS28</div>
<div class="t" id="mtcR" style="left:1325.60px;top:427.54px;font-family:'Liberation Sans', sans-serif;font-weight:normal;font-size:43.04px;transform:scaleX(1.0432);-webkit-text-stroke:0.7px #fff;">MTC-65C-RD</div>
<div class="t" id="tb1" style="left:2203.62px;top:159.01px;font-family:'Liberation Serif', serif;font-weight:300;font-size:38.12px;transform:scaleX(1.0238);-webkit-text-stroke:0.45px #fff;">以下適用伺服馬達廠牌及規格...等</div>
<div class="t" id="tb2" style="left:2206.16px;top:213.20px;font-family:'Liberation Serif', serif;font-weight:normal;font-size:35.07px;transform:scaleX(1.0763);">Servo Motor Brand and Specification</div>
<div class="t" id="tb3" style="left:2280.56px;top:275.65px;font-family:'Liberation Serif', serif;font-weight:300;font-size:37.06px;transform:scaleX(1.0558);-webkit-text-stroke:0.45px #fff;">製造商</div>
<div class="t" id="tb4" style="left:2237.82px;top:326.27px;font-family:'Liberation Serif', serif;font-weight:normal;font-size:40.09px;transform:scaleX(0.9345);">Manufacturer</div>
<div class="t" id="tb5" style="left:2583.90px;top:275.65px;font-family:'Liberation Serif', serif;font-weight:300;font-size:37.06px;transform:scaleX(1.0773);-webkit-text-stroke:0.45px #fff;">法蘭寬</div>
<div class="t" id="tb6" style="left:2541.62px;top:326.64px;font-family:'Liberation Serif', serif;font-weight:normal;font-size:38.06px;transform:scaleX(0.9841);">Flange Width</div>
<div class="t" id="tb7" style="left:2280.85px;top:382.94px;font-family:'Liberation Serif', serif;font-weight:300;font-size:37.19px;transform:scaleX(1.0521);-webkit-text-stroke:0.45px #fff;">西門子</div>
<div class="t" id="tb8" style="left:2260.67px;top:434.95px;font-family:'Liberation Serif', serif;font-weight:normal;font-size:42.25px;transform:scaleX(0.8565);">SIEMENS</div>
<div class="t" id="tb9" style="left:2280.89px;top:492.82px;font-family:'Liberation Serif', serif;font-weight:300;font-size:35.70px;transform:scaleX(1.0898);-webkit-text-stroke:0.45px #fff;">海德漢</div>
<div class="t" id="tb10" style="left:2224.34px;top:543.46px;font-family:'Liberation Serif', serif;font-weight:normal;font-size:41.98px;transform:scaleX(0.8730);">HEIDENHAIN</div>
<div class="t" id="tb11" style="left:2613.71px;top:456.41px;font-family:'Liberation Serif', serif;font-weight:normal;font-size:43.45px;transform:scaleX(0.8851);">155</div>
<div class="t" id="n1" style="left:2227.16px;top:606.91px;font-family:'Liberation Serif', serif;font-weight:300;font-size:26.03px;transform:scaleX(1.2033);-webkit-text-stroke:0.45px #fff;">其他廠牌請參照規格尺寸中之<span style="-webkit-text-stroke:0">W1,D1,Y</span></div>
<div class="t" id="n2" style="left:2216.02px;top:648.92px;font-family:'Liberation Serif', serif;font-weight:300;font-size:28.78px;transform:scaleX(1.0950);-webkit-text-stroke:0.45px #fff;">數值,如相符即適用，但須注意心軸長。</div>
<div class="t" id="n3" style="left:2280.42px;top:691.74px;font-family:'Liberation Serif', serif;font-weight:normal;font-size:29.98px;transform:scaleX(0.9730);">For others brand servo motor,please</div>
<div class="t" id="n4" style="left:2364.80px;top:740.42px;font-family:'Liberation Serif', serif;font-weight:normal;font-size:29.64px;transform:scaleX(0.9798);">check off dimensions</div>
<div class="t" id="n5" style="left:2273.83px;top:785.71px;font-family:'Liberation Serif', serif;font-weight:normal;font-size:30.48px;transform:scaleX(0.9595);">W1,D1,Y. It can bc applicd as match,</div>
<div class="t" id="n6" style="left:2260.03px;top:830.95px;font-family:'Liberation Serif', serif;font-weight:normal;font-size:29.70px;transform:scaleX(0.9654);">Plcasc bc attcntion for lcngth of shaft。</div>
<div class="t" id="nt1" style="left:2204.70px;top:932.07px;font-family:'Liberation Sans', sans-serif;font-weight:500;font-size:35.50px;transform:scaleX(1.1975);-webkit-text-stroke:0.4px #000;">本公司依市場變動保有修正此表不另行通知·</div>
<div class="t ms" id="nt2" style="left:2167.26px;top:994.07px;font-family:'Liberation Serif', serif;font-weight:normal;font-size:35.69px;transform:scaleX(1.0518);"><i style="transform:scaleX(0.899)">S</i><i>p</i><i>e</i><i>c</i><i>i</i><i>f</i><i>i</i><i>c</i><i>a</i><i>t</i><i>i</i><i>o</i><i>n</i><i>s</i><i></i><i>a</i><i>r</i><i>e</i><i></i><i>s</i><i>u</i><i>b</i><i>j</i><i>e</i><i>c</i><i>t</i><i></i><i>t</i><i>o</i><i></i><i>c</i><i>h</i><i>a</i><i>n</i><i>g</i><i>e</i><i></i><i style="transform:scaleX(0.692)">w</i><i>i</i><i>t</i><i>h</i><i>o</i><i>u</i><i>t</i><i></i><i>p</i><i>r</i><i>i</i><i>o</i><i>r</i><i></i><i>n</i><i>o</i><i>t</i><i>i</i><i>c</i><i>e</i></div>
<div class="t ms" id="nt3" style="left:2186.08px;top:1032.40px;font-family:'Liberation Serif', serif;font-weight:normal;font-size:34.93px;transform:scaleX(1.0793);"><i>i</i><i>f</i><i></i><i>i</i><i style="transform:scaleX(0.643)">m</i><i>p</i><i>r</i><i>o</i><i>v</i><i>e</i><i></i><i>p</i><i>e</i><i>r</i><i>f</i><i>o</i><i>r</i><i style="transform:scaleX(0.643)">m</i><i>a</i><i>n</i><i>c</i><i>e</i></div>
<div class="t" id="cl1" style="left:33.67px;top:982.27px;font-family:'Liberation Sans', sans-serif;font-weight:500;font-size:37.63px;transform:scaleX(1.1287);"><span style="-webkit-text-stroke:0.5px #000">間隔環</span>18mmx2</div>
<div class="t ms" id="cl2" style="left:29.28px;top:1031.72px;font-family:'Liberation Serif', serif;font-weight:normal;font-size:42.64px;transform:scaleX(0.8951);"><i style="transform:scaleX(0.750)">C</i><i>o</i><i>l</i><i>l</i><i>a</i><i>r</i></div>
<div class="t" id="cr1" style="left:1290.83px;top:985.60px;font-family:'Liberation Sans', sans-serif;font-weight:500;font-size:39.62px;transform:scaleX(1.0404);"><span style="-webkit-text-stroke:0.5px #000">間隔環</span>18mmx1</div>
<div class="t ms" id="cr2" style="left:1292.38px;top:1034.84px;font-family:'Liberation Serif', serif;font-weight:normal;font-size:43.76px;transform:scaleX(0.8653);"><i style="transform:scaleX(0.750)">C</i><i>o</i><i>l</i><i>l</i><i>a</i><i>r</i></div>
<div class="t" id="capL1" style="left:155.26px;top:1500.57px;font-family:'Liberation Sans', sans-serif;font-weight:500;font-size:37.90px;transform:scaleX(1.1104);-webkit-text-stroke:0.5px #000;">建議螺桿軸端加工圖<span class="pr">(</span>轉造級<span class="pr">)</span></div>
<div class="t ms" id="capL2" style="left:154.98px;top:1541.96px;font-family:'Liberation Serif', serif;font-weight:normal;font-size:40.49px;transform:scaleX(1.0341);"><i style="transform:scaleX(0.750)">R</i><i>e</i><i>c</i><i>o</i><i style="transform:scaleX(0.643)">m</i><i style="transform:scaleX(0.643)">m</i><i>e</i><i>n</i><i>d</i><i>e</i><i>d</i><i></i><i style="transform:scaleX(0.899)">S</i><i>h</i><i>a</i><i>f</i><i>t</i><i></i><i>e</i><i>n</i><i>d</i><i></i><i>s</i><i>h</i><i>a</i><i>p</i><i>e</i><i>(</i><i style="transform:scaleX(0.750)">R</i><i>o</i><i>l</i><i>l</i><i>e</i><i>d</i><i>)</i></div>
<div class="t" id="capR1" style="left:1270.96px;top:1500.57px;font-family:'Liberation Sans', sans-serif;font-weight:500;font-size:37.90px;transform:scaleX(1.1103);-webkit-text-stroke:0.5px #000;">建議螺桿軸端加工圖<span class="pr">(</span>研磨級<span class="pr">)</span></div>
<div class="t ms" id="capR2" style="left:1269.88px;top:1541.96px;font-family:'Liberation Serif', serif;font-weight:normal;font-size:40.49px;transform:scaleX(1.0332);"><i style="transform:scaleX(0.750)">R</i><i>e</i><i>c</i><i>o</i><i style="transform:scaleX(0.643)">m</i><i style="transform:scaleX(0.643)">m</i><i>e</i><i>n</i><i>d</i><i>e</i><i>d</i><i></i><i style="transform:scaleX(0.899)">S</i><i>h</i><i>a</i><i>f</i><i>t</i><i></i><i>e</i><i>n</i><i>d</i><i></i><i>s</i><i>h</i><i>a</i><i>p</i><i>e</i><i>(</i><i style="transform:scaleX(0.692)">G</i><i>r</i><i>o</i><i>u</i><i>n</i><i>d</i><i>)</i></div>
<div class="t" id="d19L" style="left:620.28px;top:551.71px;font-family:'Liberation Sans', sans-serif;font-weight:normal;font-size:43.63px;transform:scaleX(0.8586);-webkit-text-stroke:0.6px #fff;">19</div>
<div class="t" id="d58L" style="left:746.49px;top:831.43px;font-family:'Liberation Sans', sans-serif;font-weight:normal;font-size:44.52px;transform:scaleX(0.9613);-webkit-text-stroke:0.6px #fff;">58</div>
<div class="t" id="d19R" style="left:1772.56px;top:555.56px;font-family:'Liberation Sans', sans-serif;font-weight:normal;font-size:43.95px;transform:scaleX(0.8869);-webkit-text-stroke:0.6px #fff;">19</div>
<div class="t" id="d58R" style="left:1868.25px;top:821.37px;font-family:'Liberation Sans', sans-serif;font-weight:normal;font-size:45.49px;transform:scaleX(0.9581);-webkit-text-stroke:0.6px #fff;">58</div>
<div class="t" id="d30L" style="left:511.07px;top:1338.48px;font-family:'Liberation Sans', sans-serif;font-weight:normal;font-size:43.63px;transform:scaleX(0.9551);-webkit-text-stroke:0.6px #fff;">30</div>
<div class="t" id="d107" style="left:418.89px;top:1415.96px;font-family:'Liberation Sans', sans-serif;font-weight:normal;font-size:43.07px;transform:scaleX(0.9240);-webkit-text-stroke:0.6px #fff;">107</div>
<div class="t" id="d57L" style="left:596.57px;top:1415.96px;font-family:'Liberation Sans', sans-serif;font-weight:normal;font-size:43.07px;transform:scaleX(0.9664);-webkit-text-stroke:0.6px #fff;">57</div>
<div class="t" id="d30R" style="left:1627.14px;top:1336.20px;font-family:'Liberation Sans', sans-serif;font-weight:normal;font-size:45.77px;transform:scaleX(0.9197);-webkit-text-stroke:0.6px #fff;">30</div>
<div class="t" id="d89" style="left:1567.73px;top:1415.92px;font-family:'Liberation Sans', sans-serif;font-weight:normal;font-size:43.16px;transform:scaleX(0.9620);-webkit-text-stroke:0.6px #fff;">89</div>
<div class="t" id="d57R" style="left:1711.62px;top:1415.92px;font-family:'Liberation Sans', sans-serif;font-weight:normal;font-size:43.16px;transform:scaleX(0.9668);-webkit-text-stroke:0.6px #fff;">57</div>
</body></html>
